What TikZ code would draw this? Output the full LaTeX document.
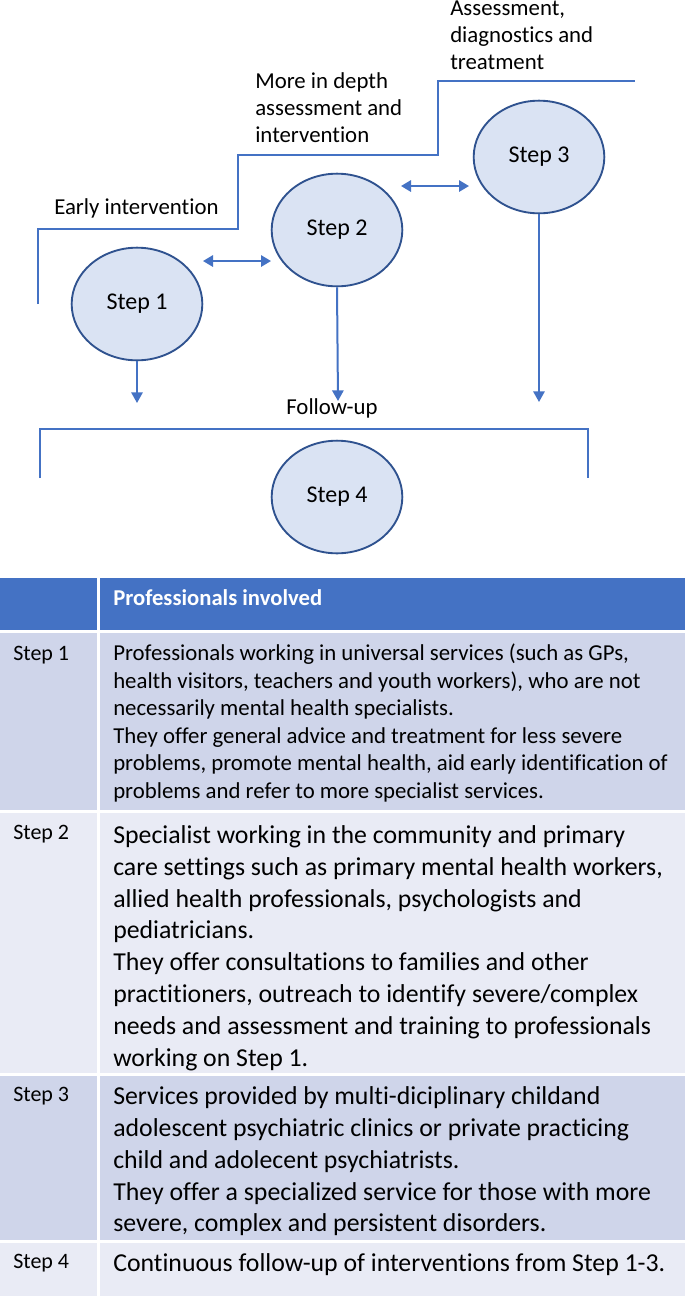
\documentclass[tikz,border=0pt]{standalone}
\usepackage{fontspec}
\setmainfont{Carlito}[Ligatures={NoCommon}]
\usetikzlibrary{shapes.geometric,arrows.meta}
\definecolor{accent}{HTML}{4472C4}
\definecolor{edgeblue}{HTML}{2F528F}
\definecolor{fillblue}{HTML}{DAE3F3}
\definecolor{rowdark}{HTML}{CFD5EA}
\definecolor{rowlight}{HTML}{E9EBF5}
\begin{document}
\begin{tikzpicture}[x=0.75pt,y=-0.75pt,
  stepnode/.style={ellipse,draw=edgeblue,line width=1.4pt,fill=fillblue,minimum width=98pt,minimum height=84.5pt,inner sep=0pt,font=\fontsize{18}{21}\selectfont},
  conn/.style={draw=accent,line width=1.5pt},
  arr/.style={conn,-{Triangle[width=8.5pt,length=8pt]}},
  darr/.style={conn,{Triangle[width=8.5pt,length=7.5pt]}-{Triangle[width=8.5pt,length=7.5pt]}},
  lbl/.style={anchor=base west,inner sep=0pt,font=\fontsize{17.1}{20}\selectfont},
  tone/.style={anchor=base west,inner sep=0pt,font=\fontsize{17.1}{20}\selectfont},
  ttwo/.style={anchor=base west,inner sep=0pt,font=\fontsize{19.35}{23}\selectfont},
  tleft/.style={anchor=base west,inner sep=0pt,font=\fontsize{16.5}{20}\selectfont},
  thead/.style={anchor=base west,inner sep=0pt,text=white,font=\fontsize{17}{20}\selectfont\bfseries}
]
\useasboundingbox (0,0) rectangle (685,1296);
\fill[white] (0,0) rectangle (685,1296);

% staircase
\draw[conn] (38,304) -- (38,229) -- (238,229) -- (238,155) -- (438,155) -- (438,81) -- (635,81);

% labels
\node[lbl] (lei) at (54,214) {Early intervention};
\node[lbl] (lma) at (255,88) {More in depth};
\node[lbl] (lmb) at (255,115) {assessment and};
\node[lbl] (lmc) at (255,142) {intervention};
\node[lbl] (laa) at (450,15) {Assessment,};
\node[lbl] (lab) at (450,42) {diagnostics and};
\node[lbl] (lac) at (450,69) {treatment};

% steps
\node[stepnode] (s1) at (137,304) {Step 1};
\node[stepnode] (s2) at (337,230) {Step 2};
\node[stepnode] (s3) at (539,157) {Step 3};
\node[stepnode] (s4) at (337,497) {Step 4};

% horizontal double arrows
\coordinate (d1a) at (203,261);
\coordinate (d1b) at (271,261);
\coordinate (d2a) at (401,186);
\coordinate (d2b) at (469,186);
\draw[darr] (d1a) -- (d1b);
\draw[darr] (d2a) -- (d2b);

% down arrows
\coordinate (e1) at (137,403);
\coordinate (e2) at (338,401);
\coordinate (e3) at (539,402);
\draw[arr] (s1.south) -- (e1);
\draw[arr] (s2.south) -- (e2);
\draw[arr] (s3.south) -- (e3);

% follow-up bracket
\node[anchor=base,inner sep=0pt,font=\fontsize{17.1}{20}\selectfont] (fu) at (332,414) {Follow-up};
\draw[conn] (40,478) -- (40,429) -- (588,429) -- (588,478);

% table
\fill[accent] (0,578) rectangle (97,630);
\fill[accent] (100,578) rectangle (685,630);
\fill[rowdark] (0,633) rectangle (97,810);
\fill[rowdark] (100,633) rectangle (685,810);
\fill[rowlight] (0,813) rectangle (97,1073);
\fill[rowlight] (100,813) rectangle (685,1073);
\fill[rowdark] (0,1076) rectangle (97,1240);
\fill[rowdark] (100,1076) rectangle (685,1240);
\fill[rowlight] (0,1243) rectangle (97,1296);
\fill[rowlight] (100,1243) rectangle (685,1296);

\node[thead] (hd) at (113,605) {Professionals involved};

\node[tleft] (k1) at (13,660) {Step 1};
\node[tleft] (k2) at (13,839) {Step 2};
\node[tleft] (k3) at (13,1101) {Step 3};
\node[tleft] (k4) at (13,1268) {Step 4};

\node[tone] (a1) at (113,660) {Professionals working in universal services (such as GPs,};
\node[tone] (a2) at (113,688) {health visitors, teachers and youth workers), who are not};
\node[tone] (a3) at (113,715) {necessarily mental health specialists.};
\node[tone] (a4) at (113,743) {They offer general advice and treatment for less severe};
\node[tone] (a5) at (113,770) {problems, promote mental health, aid early identification of};
\node[tone] (a6) at (113,798) {problems and refer to more specialist services.};

\node[ttwo] (b1) at (113,843) {Specialist working in the community and primary};
\node[ttwo] (b2) at (113,875) {care settings such as primary mental health workers,};
\node[ttwo] (b3) at (113,907) {allied health professionals, psychologists and};
\node[ttwo] (b4) at (113,938) {pediatricians.};
\node[ttwo] (b5) at (113,970) {They offer consultations to families and other};
\node[ttwo] (b6) at (113,1002) {practitioners, outreach to identify severe/complex};
\node[ttwo] (b7) at (113,1034) {needs and assessment and training to professionals};
\node[ttwo] (b8) at (113,1066) {working on Step 1.};

\node[ttwo] (c1) at (113,1104) {Services provided by multi-diciplinary childand};
\node[ttwo] (c2) at (113,1136) {adolescent psychiatric clinics or private practicing};
\node[ttwo] (c3) at (113,1168) {child and adolecent psychiatrists.};
\node[ttwo] (c4) at (113,1200) {They offer a specialized service for those with more};
\node[ttwo] (c5) at (113,1231) {severe, complex and persistent disorders.};

\node[ttwo] (d1) at (113,1271) {Continuous follow-up of interventions from Step 1-3.};
\end{tikzpicture}
\end{document}
